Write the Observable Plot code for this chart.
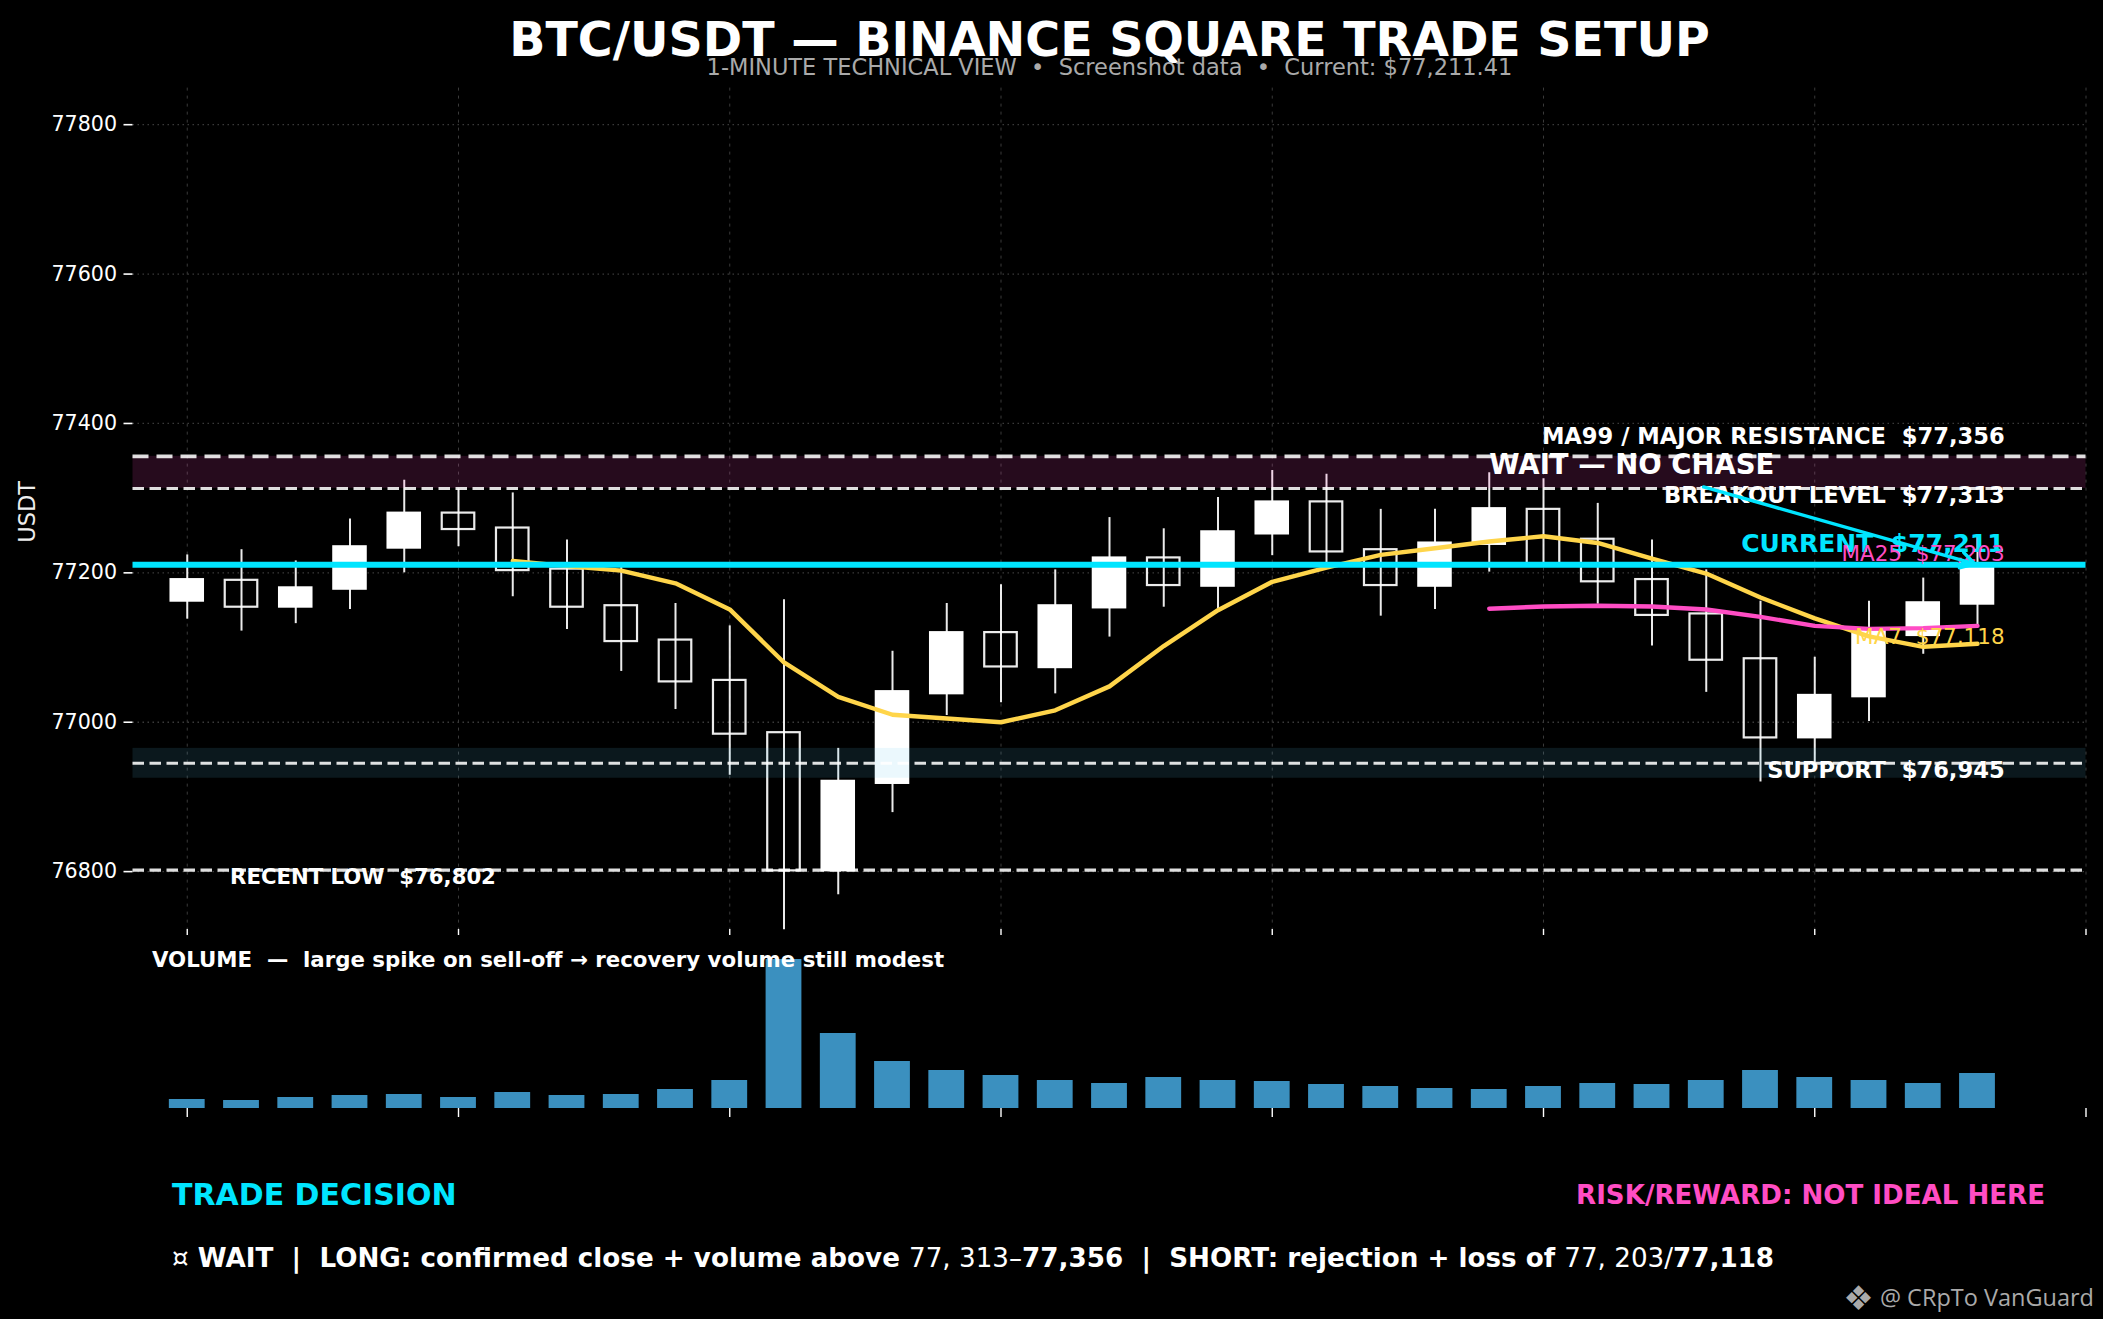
<!DOCTYPE html>
<html>
<head>
<meta charset="utf-8">
<script src="https://cdn.jsdelivr.net/npm/d3@7"></script>
<script src="https://cdn.jsdelivr.net/npm/@observablehq/plot@0.6"></script>
<style>
html,body{margin:0;padding:0;background:#000;}
#page{position:relative;width:2103px;height:1319px;background:#000;overflow:hidden;font-family:"DejaVu Sans",sans-serif;color:#fff;}
#page svg{position:absolute;left:0;top:0;}
#page svg text{white-space:pre;}
.t{position:absolute;white-space:pre;line-height:1;}
.m{font-weight:normal;}
</style>
</head>
<body>
<div id="page"></div>
<script>
const candleIndex = d3.range(34);
const opens  = [77162,77190,77154,77178,77233,77280,77260,77205,77156,77110,77056,76986,76801,76918,77038,77120,77073,77153,77220,77182,77252,77295,77231,77182,77238,77285,77245,77191,77145,77085,76979,77034,77116,77158];
const closes = [77191,77154,77180,77235,77280,77258,77203,77154,77108,77054,76984,76801,76921,77041,77120,77074,77156,77220,77183,77255,77295,77228,77183,77240,77286,77211,77188,77143,77083,76979,77036,77123,77160,77211];
const highs  = [77224,77231,77216,77272,77324,77312,77307,77244,77212,77159,77129,77164,76965,77095,77159,77184,77204,77274,77259,77301,77337,77332,77285,77285,77334,77326,77293,77244,77204,77162,77087,77162,77193,77250];
const lows   = [77138,77122,77132,77151,77200,77235,77168,77124,77068,77017,76929,76722,76769,76879,77009,77026,77038,77114,77154,77152,77223,77212,77142,77151,77201,77209,77158,77102,77040,76920,76942,77001,77091,77128];
const ma7Index  = d3.range(6,34);
const ma7Values = [77216,77209,77203,77186,77151,77080,77034,77010,77005,77000,77016,77048,77102,77150,77188,77207,77224,77233,77242,77249,77240,77219,77199,77167,77139,77115,77101,77105];
const ma25Index  = d3.range(24,34);
const ma25Values = [77152,77155,77156,77155,77151,77141,77129,77125,77126,77129];
const volumes = [27,24,33,39,42,33,48,39,42,57,84,447,225,141,114,99,84,75,93,84,81,72,66,60,57,66,75,72,84,114,93,84,75,105];
const priceTicks = [76800,77000,77200,77400,77600,77800];
const xTicks = [0,5,10,15,20,25,30,35];
const resistanceBand = [77313,77356];
const supportBand = [76925,76965];
const levelMajor = 77356, levelBreakout = 77313, levelSupport = 76945, levelLow = 76802, levelCurrent = 77211;
const labelX = 33.5;
const boldLabels = [
  {t:"MA99 / MAJOR RESISTANCE  $77,356", y:77382, c:"#ffffff", s:22.6},
  {t:"BREAKOUT LEVEL  $77,313", y:77303, c:"#ffffff", s:22.6},
  {t:"CURRENT  $77,211", y:77238, c:"#00e5ff", s:25},
  {t:"SUPPORT  $76,945", y:76935, c:"#ffffff", s:22.6}
];
const plainLabels = [
  {t:"MA25  $77,203", y:77224.5, c:"#ff4dc4", s:21.5},
  {t:"MA7  $77,118", y:77114, c:"#ffd54a", s:21.5}
];
const lowLabel = {t:"RECENT LOW  $76,802", x:0.79, y:76793};
const waitLabel = {t:"WAIT — NO CHASE", x:24, y:77344};
const arrowFrom = {x:27.95,y:77315}, arrowTo = {x:32.95,y:77212};
const volumeNote = "VOLUME  —  large spike on sell-off → recovery volume still modest";

const W = 2103, font = '"DejaVu Sans",sans-serif';
const xOpts = {domain:[-1,35], type:"linear"};
const gridMarks = [
  Plot.gridX(xTicks,{stroke:"#3a3a3a",strokeOpacity:1,strokeWidth:1,strokeDasharray:"3,5"}),
  Plot.gridY(priceTicks,{stroke:"#3a3a3a",strokeOpacity:1,strokeWidth:1.3,strokeDasharray:"1.5,3.5"})
];
const up = i => closes[i] > opens[i];
const dashed = (v,w,d) => Plot.ruleY([v],{stroke:"#ffffff",strokeOpacity:.87,strokeWidth:w,strokeDasharray:d});

const price = Plot.plot({
  width:W, height:950, marginTop:87.6, marginBottom:21, marginLeft:132.5, marginRight:17.5,
  x:xOpts, y:{domain:[76722.5,77849]},
  style:{background:"transparent",color:"white",fontFamily:font},
  marks:[
    ...gridMarks,
    Plot.axisY(priceTicks,{tickSize:9,tickPadding:7,tickFormat:"d",fontSize:20.6,stroke:"white",strokeWidth:1.6,label:null}),
    Plot.text(["USDT"],{frameAnchor:"left",dx:-105,dy:3,rotate:-90,text:d=>d,fill:"#eeeeee",fontSize:22.5,lineAnchor:"middle",textAnchor:"middle"}),
    Plot.axisX(xTicks,{tickSize:6,tickFormat:()=>"",stroke:"white",strokeWidth:1.4,label:null}),
    Plot.ruleX(candleIndex,{x:i=>i,y1:i=>lows[i],y2:i=>highs[i],stroke:"white",strokeOpacity:.92,strokeWidth:2}),
    Plot.rect(candleIndex,{filter:up,x1:i=>i-.3,x2:i=>i+.3,y1:i=>opens[i],y2:i=>closes[i],fill:"white",stroke:"white",strokeWidth:2}),
    Plot.rect(candleIndex,{filter:i=>!up(i),x1:i=>i-.3,x2:i=>i+.3,y1:i=>opens[i],y2:i=>closes[i],fill:"none",stroke:"white",strokeOpacity:.92,strokeWidth:2.2}),
    Plot.rect([resistanceBand],{x1:-1,x2:35,y1:d=>d[0],y2:d=>d[1],fill:"#ff4dc4",fillOpacity:.15}),
    Plot.rect([supportBand],{x1:-1,x2:35,y1:d=>d[0],y2:d=>d[1],fill:"#5cc8f0",fillOpacity:.12}),
    dashed(levelMajor,3.8,"16,8"),
    dashed(levelBreakout,3.1,"11.5,5.5"),
    dashed(levelSupport,3.1,"11.5,5.5"),
    dashed(levelLow,3.1,"11.5,5.5"),
    Plot.line(ma7Index,{x:i=>i,y:(d,k)=>ma7Values[k],stroke:"#ffd54a",strokeWidth:4.4,curve:"linear"}),
    Plot.line(ma25Index,{x:i=>i,y:(d,k)=>ma25Values[k],stroke:"#ff4dc4",strokeWidth:4.4,curve:"linear"}),
    Plot.ruleY([levelCurrent],{stroke:"#00e5ff",strokeWidth:6}),
    Plot.text(boldLabels,{x:()=>labelX,y:"y",text:"t",fill:"c",fontWeight:"bold",fontSize:"s",textAnchor:"end",lineAnchor:"middle"}),
    Plot.text(plainLabels,{x:()=>labelX,y:"y",text:"t",fill:"c",fontSize:"s",textAnchor:"end",lineAnchor:"middle"}),
    Plot.text([lowLabel],{x:"x",y:"y",text:"t",fill:"white",fontWeight:"bold",fontSize:21.2,textAnchor:"start",lineAnchor:"middle"}),
    Plot.text([waitLabel],{x:"x",y:"y",text:"t",fill:"white",fontWeight:"bold",fontSize:27.5,textAnchor:"start",lineAnchor:"middle"}),
    Plot.arrow([{}],{x1:()=>arrowFrom.x,y1:()=>arrowFrom.y,x2:()=>arrowTo.x,y2:()=>arrowTo.y,stroke:"#00e5ff",strokeWidth:3.4,headLength:7,bend:0})
  ]
});

const volume = Plot.plot({
  width:W, height:1130, marginTop:959, marginBottom:22, marginLeft:132.5, marginRight:17.5,
  x:xOpts, y:{domain:[0,447],axis:null},
  style:{background:"transparent",color:"white",fontFamily:font},
  marks:[
    Plot.axisX(xTicks,{tickSize:9,tickFormat:()=>"",stroke:"white",strokeWidth:1.4,label:null}),
    Plot.rect(candleIndex,{x1:i=>i-.33,x2:i=>i+.33,y1:0,y2:i=>volumes[i],fill:"#3b90bf"}),
    Plot.text([volumeNote],{frameAnchor:"top-left",dx:19,dy:1,text:d=>d,fill:"white",fontWeight:"bold",fontSize:21.3,lineAnchor:"middle"})
  ]
});

const page = document.getElementById("page");
page.append(price, volume);
function addText(html,css){const d=document.createElement("div");d.className="t";d.style.cssText=css;d.innerHTML=html;page.append(d);}
addText("BTC/USDT — BINANCE SQUARE TRADE SETUP","left:0;width:2219px;top:16px;text-align:center;font-weight:bold;font-size:47.5px;");
addText("1-MINUTE TECHNICAL VIEW  •  Screenshot data  •  Current: $77,211.41","left:0;width:2219px;top:56px;text-align:center;font-size:22.5px;color:#aaaaaa;");
addText("TRADE DECISION","left:172px;top:1179.5px;font-weight:bold;font-size:30px;color:#00e5ff;");
addText("RISK/REWARD: NOT IDEAL HERE","right:58px;top:1182px;font-weight:bold;font-size:26.1px;color:#ff4dc4;");
addText('<span class="m">¤</span> WAIT  |  LONG: confirmed close + volume above <span class="m">77, 313–</span>77,356  |  SHORT: rejection + loss of <span class="m">77, 203/</span>77,118',"left:172px;top:1245px;font-weight:bold;font-size:26.2px;");
addText('<span style="font-size:34px;vertical-align:-4px;font-family:\'DejaVu Sans\'">❖</span> @ CRpTo VanGuard',"right:9px;top:1281px;font-size:23.5px;color:#aaaaaa;font-family:'Open Sans','DejaVu Sans',sans-serif;");
</script>
</body>
</html>
